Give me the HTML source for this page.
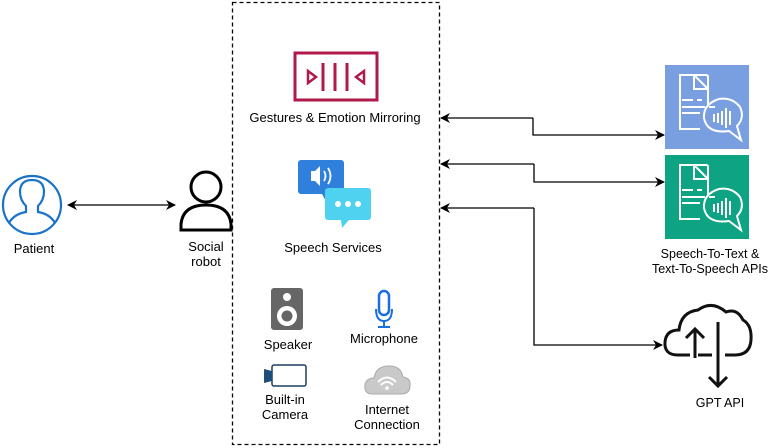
<!DOCTYPE html>
<html><head><meta charset="utf-8"><style>
body{margin:0;background:#fff;}
svg{display:block;font-family:"Liberation Sans",Arial,sans-serif;}
</style></head><body>
<svg width="768" height="448" viewBox="0 0 768 448" xmlns="http://www.w3.org/2000/svg">
<defs>
<marker id="a" markerWidth="10" markerHeight="10" refX="9" refY="5" orient="auto-start-reverse" markerUnits="userSpaceOnUse"><path d="M0,0 L10,5 L0,10 L3,5 z" fill="#000"/></marker>
</defs>
<rect x="232.5" y="2.5" width="207" height="442" fill="none" stroke="#000" stroke-width="1.3" stroke-dasharray="4,3"/>

<circle cx="32" cy="205" r="29" fill="none" stroke="#1a73c8" stroke-width="2.2"/>
<path d="M9,223 Q14,214 26,212 L26,206 Q20,200 20,192 Q20,180 32,180 Q44,180 44,192 Q44,200 38,206 L38,212 Q50,214 55,223" fill="none" stroke="#1a73c8" stroke-width="2.2"/>
<text x="34" y="253" font-size="13" text-anchor="middle">Patient</text>
<line x1="68" y1="205" x2="175" y2="205" stroke="#000" stroke-width="1.3" marker-start="url(#a)" marker-end="url(#a)"/>

<circle cx="206" cy="187" r="15" fill="none" stroke="#000" stroke-width="3"/>
<path d="M181,230 L181,224 Q183,205 206,205 Q229,205 231,224 L231,230 Z" fill="none" stroke="#000" stroke-width="3"/>
<text x="206" y="251" font-size="13" text-anchor="middle">Social</text>
<text x="206" y="266" font-size="13" text-anchor="middle">robot</text>

<rect x="295" y="53" width="82" height="47" fill="none" stroke="#b01a4a" stroke-width="3"/>
<line x1="323" y1="63" x2="323" y2="91" stroke="#b01a4a" stroke-width="3"/>
<line x1="335" y1="63" x2="335" y2="91" stroke="#b01a4a" stroke-width="3"/>
<line x1="347" y1="63" x2="347" y2="91" stroke="#b01a4a" stroke-width="3"/>
<path d="M308,71 L316,77 L308,83 Z" fill="none" stroke="#b01a4a" stroke-width="2.5"/>
<path d="M364,71 L356,77 L364,83 Z" fill="none" stroke="#b01a4a" stroke-width="2.5"/>
<text x="335" y="122" font-size="13" text-anchor="middle">Gestures &amp; Emotion Mirroring</text>

<rect x="298" y="160" width="46" height="34" rx="3" fill="#2f7fdc"/>
<path d="M322,194 L327,203 L330,194 Z" fill="#2f7fdc"/>
<path d="M311,171 L315,171 L320,166 L320,186 L315,181 L311,181 Z" fill="#fff"/>
<path d="M324,171 Q327,176 324,181 M328,168 Q333,176 328,184" fill="none" stroke="#fff" stroke-width="1.8"/>
<rect x="325" y="188" width="46" height="32" rx="3" fill="#4fd2f0"/>
<path d="M341,220 L342,228 L349,220 Z" fill="#4fd2f0"/>
<circle cx="338" cy="204" r="3" fill="#fff"/><circle cx="348" cy="204" r="3" fill="#fff"/><circle cx="358" cy="204" r="3" fill="#fff"/>
<text x="333" y="252" font-size="13" text-anchor="middle">Speech Services</text>

<rect x="271" y="288" width="32" height="42" rx="3" fill="#666"/>
<circle cx="287" cy="297" r="4" fill="#fff"/>
<circle cx="287" cy="316" r="10" fill="#fff"/>
<circle cx="287" cy="316" r="5.5" fill="#666"/>
<text x="288" y="349" font-size="13" text-anchor="middle">Speaker</text>

<rect x="379" y="291" width="10" height="24" rx="5" fill="none" stroke="#1a6fe0" stroke-width="2.5"/>
<path d="M376,309 Q376,321 384,321 Q392,321 392,309" fill="none" stroke="#1a6fe0" stroke-width="2"/>
<line x1="384" y1="321" x2="384" y2="326" stroke="#1a6fe0" stroke-width="2"/>
<line x1="378" y1="327" x2="390" y2="327" stroke="#1a6fe0" stroke-width="2"/>
<text x="384" y="343" font-size="13" text-anchor="middle">Microphone</text>

<rect x="272" y="365" width="34" height="21" rx="2" fill="#fff" stroke="#1b3f5e" stroke-width="1.5"/>
<path d="M264,369 L272,371 L272,381 L264,383 Z" fill="#1b4f7a"/>
<text x="285" y="404" font-size="13" text-anchor="middle">Built-in</text>
<text x="285" y="419" font-size="13" text-anchor="middle">Camera</text>

<path d="M372,394 Q364,394 365,385 Q366,378 374,378 Q376,366 389,366 Q401,366 403,377 Q411,378 410,386 Q410,394 401,394 Z" fill="#c9c9c9" stroke="#aaa" stroke-width="1"/>
<path d="M378,382 Q387,373 396,382 M381,385 Q387,379 393,385" fill="none" stroke="#fff" stroke-width="2"/>
<circle cx="387" cy="388" r="1.8" fill="#fff"/>
<text x="387" y="414" font-size="13" text-anchor="middle">Internet</text>
<text x="387" y="429" font-size="13" text-anchor="middle">Connection</text>

<polyline points="533,118 533,135 664,135" fill="none" stroke="#000" stroke-width="1.3" marker-end="url(#a)"/>
<line x1="533" y1="118" x2="441" y2="118" stroke="#000" stroke-width="1.3" marker-end="url(#a)"/>
<polyline points="534,164 534,182 664,182" fill="none" stroke="#000" stroke-width="1.3" marker-end="url(#a)"/>
<line x1="534" y1="164" x2="441" y2="164" stroke="#000" stroke-width="1.3" marker-end="url(#a)"/>
<polyline points="534,208 534,345 662,345" fill="none" stroke="#000" stroke-width="1.3" marker-end="url(#a)"/>
<line x1="534" y1="208" x2="441" y2="208" stroke="#000" stroke-width="1.3" marker-end="url(#a)"/>

<g>
<rect x="665" y="65" width="84" height="84" fill="#7a9fe0"/>
<g fill="none" stroke="#fff" stroke-width="2">
<path d="M708,105 L708,77 Q708,75 706,75 L680,75 L680,129 L700,129"/>
<path d="M694,75 L708,89 M694,75 L694,89 L708,89"/>
<line x1="682" y1="100" x2="693" y2="100"/><line x1="697" y1="100" x2="702" y2="100"/>
<line x1="682" y1="107" x2="705" y2="107"/><line x1="709" y1="107" x2="715" y2="107"/>
<line x1="682" y1="113" x2="700" y2="113"/>
<path d="M729,131 L741,140 L737,126 Q745,118 740,107 Q732,97 719,99 Q703,104 704,118 Q707,134 729,131 Z"/>
<line x1="714" y1="114" x2="714" y2="122"/><line x1="718" y1="113" x2="718" y2="123"/><line x1="722" y1="111" x2="722" y2="125"/><line x1="726" y1="108" x2="726" y2="128"/><line x1="730" y1="111" x2="730" y2="125"/>
</g>
</g>
<g transform="translate(0,90)">
<rect x="665" y="65" width="84" height="84" fill="#0ea383"/>
<g fill="none" stroke="#fff" stroke-width="2">
<path d="M708,105 L708,77 Q708,75 706,75 L680,75 L680,129 L700,129"/>
<path d="M694,75 L708,89 M694,75 L694,89 L708,89"/>
<line x1="682" y1="100" x2="693" y2="100"/><line x1="697" y1="100" x2="702" y2="100"/>
<line x1="682" y1="107" x2="705" y2="107"/><line x1="709" y1="107" x2="715" y2="107"/>
<line x1="682" y1="113" x2="700" y2="113"/>
<path d="M729,131 L741,140 L737,126 Q745,118 740,107 Q732,97 719,99 Q703,104 704,118 Q707,134 729,131 Z"/>
<line x1="714" y1="114" x2="714" y2="122"/><line x1="718" y1="113" x2="718" y2="123"/><line x1="722" y1="111" x2="722" y2="125"/><line x1="726" y1="108" x2="726" y2="128"/><line x1="730" y1="111" x2="730" y2="125"/>
</g>
</g>
<text x="710" y="258" font-size="12.5" text-anchor="middle">Speech-To-Text &amp;</text>
<text x="710" y="273" font-size="12.5" text-anchor="middle">Text-To-Speech APIs</text>

<g fill="none" stroke="#111" stroke-width="3">
<path d="M690,355 L678,355 Q664,355 665,342 Q666,330 679,330 Q681,312 698,310 Q712,300 726,312 Q737,308 743,320 Q752,325 751,340 Q750,355 735,355 L725,355"/>
<path d="M698,355 L712,355"/>
<line x1="695" y1="358" x2="695" y2="330"/>
<path d="M686,338 L695,329 L704,338"/>
<line x1="718" y1="322" x2="718" y2="386"/>
<path d="M709,377 L718,386 L727,377"/>
</g>
<text x="720" y="407" font-size="12.5" text-anchor="middle">GPT API</text>
</svg>
</body></html>
